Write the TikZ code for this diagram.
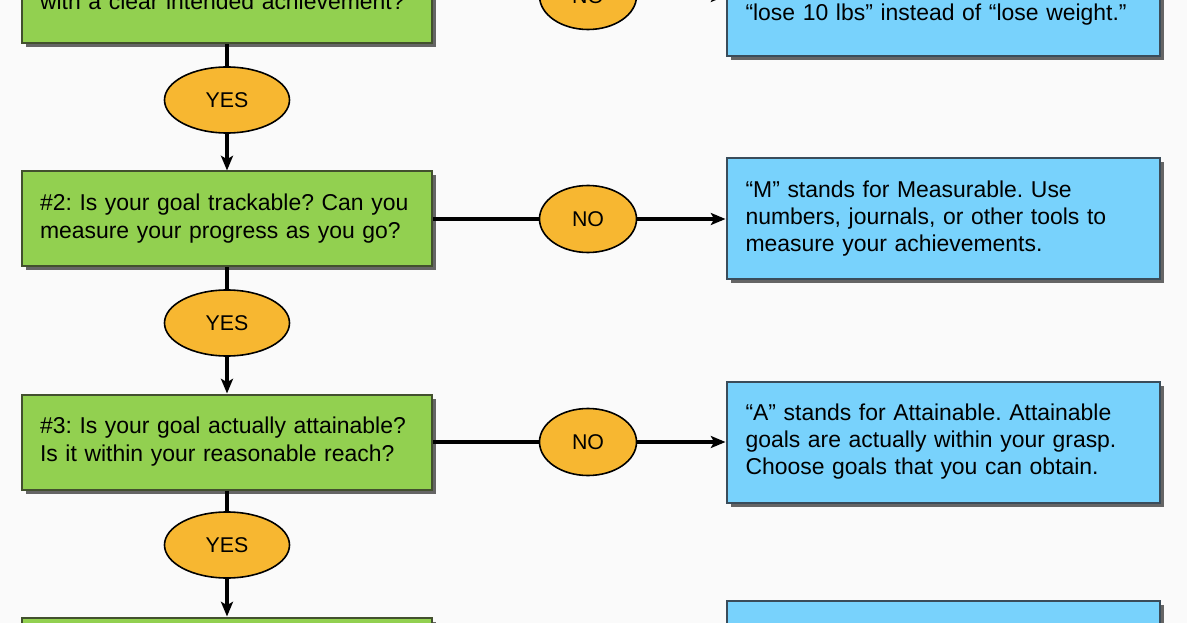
\documentclass[tikz,border=0pt]{standalone}
\usepackage{fontspec}
\setmainfont{Liberation Sans}
\usetikzlibrary{shapes.geometric,arrows.meta,shadows}
\definecolor{goalgreen}{RGB}{146,208,80}
\definecolor{goalline}{RGB}{66,80,46}
\definecolor{hintblue}{RGB}{120,210,252}
\definecolor{hintline}{RGB}{58,76,90}
\definecolor{choiceorange}{RGB}{247,183,49}
\definecolor{paper}{RGB}{250,250,250}
\frenchspacing
\begin{document}
\begin{tikzpicture}[x=0.75pt,y=-0.75pt,
    goal/.style={draw=goalline, line width=1.5pt, fill=goalgreen,
      text width=280.5pt, inner xsep=13.5pt, inner ysep=0pt,
      minimum height=71.25pt, align=left,
      font=\fontsize{17.2}{21}\selectfont,
      drop shadow={shadow xshift=3pt, shadow yshift=-3pt, fill=black!75, opacity=.8}},
    hint/.style={goal, draw=hintline, fill=hintblue,
      text width=296.25pt, inner xsep=14.25pt, minimum height=90.75pt,
      font=\fontsize{17.2}{20.25}\selectfont},
    choice/.style={ellipse, draw=black, line width=1.2pt, fill=choiceorange,
      inner sep=0pt, font=\fontsize{16}{18}\selectfont},
    yesnode/.style={choice, minimum width=93.75pt, minimum height=49.5pt},
    nonode/.style={choice, minimum width=72.75pt, minimum height=50.25pt}]
  \useasboundingbox[fill=paper] (0,0) rectangle (1187,623);
  \clip (0,0) rectangle (1187,623);

  % questions
  \node[goal] (g1) at (227,-4) {\mbox{}\\with a clear intended achievement?};
  \node[goal] (g2) at (227,219) {\#2: Is your goal trackable? Can you\\measure your progress as you go?};
  \node[goal] (g3) at (227,442) {\#3: Is your goal actually attainable?\\Is it within your reasonable reach?};
  \node[goal] (g4) at (227,665) {};

  % answers
  \node[hint] (b1) at (943,-4) {\mbox{}\\\mbox{}\\“lose 10 lbs” instead of “lose weight.”};
  \node[hint] (b2) at (943,219) {“M” stands for Measurable. Use\\numbers, journals, or other tools to\\measure your achievements.};
  \node[hint] (b3) at (943,442) {“A” stands for Attainable. Attainable\\goals are actually within your grasp.\\Choose goals that you can obtain.};
  \node[hint] (b4) at (943,661) {};

  % yes / no
  \node[yesnode] (y1) at (227,100) {YES};
  \node[yesnode] (y2) at (227,323) {YES};
  \node[yesnode] (y3) at (227,545) {YES};
  \node[nonode] (n1) at (588,-4) {NO};
  \node[nonode] (n2) at (588,219) {NO};
  \node[nonode] (n3) at (588,442) {NO};

  \begin{scope}[line width=2.6pt, -{Stealth[length=11pt,width=9pt,inset=2.5pt]}]
    \draw[-] (g1) to (y1);
    \draw (y1) to (g2);
    \draw[-] (g2) to (y2);
    \draw (y2) to (g3);
    \draw[-] (g3) to (y3);
    \draw (y3) to (g4);
    \draw[-] (g1) to (n1);
    \draw (n1) to (b1);
    \draw[-] (g2) to (n2);
    \draw (n2) to (b2);
    \draw[-] (g3) to (n3);
    \draw (n3) to (b3);
  \end{scope}
\end{tikzpicture}
\end{document}
